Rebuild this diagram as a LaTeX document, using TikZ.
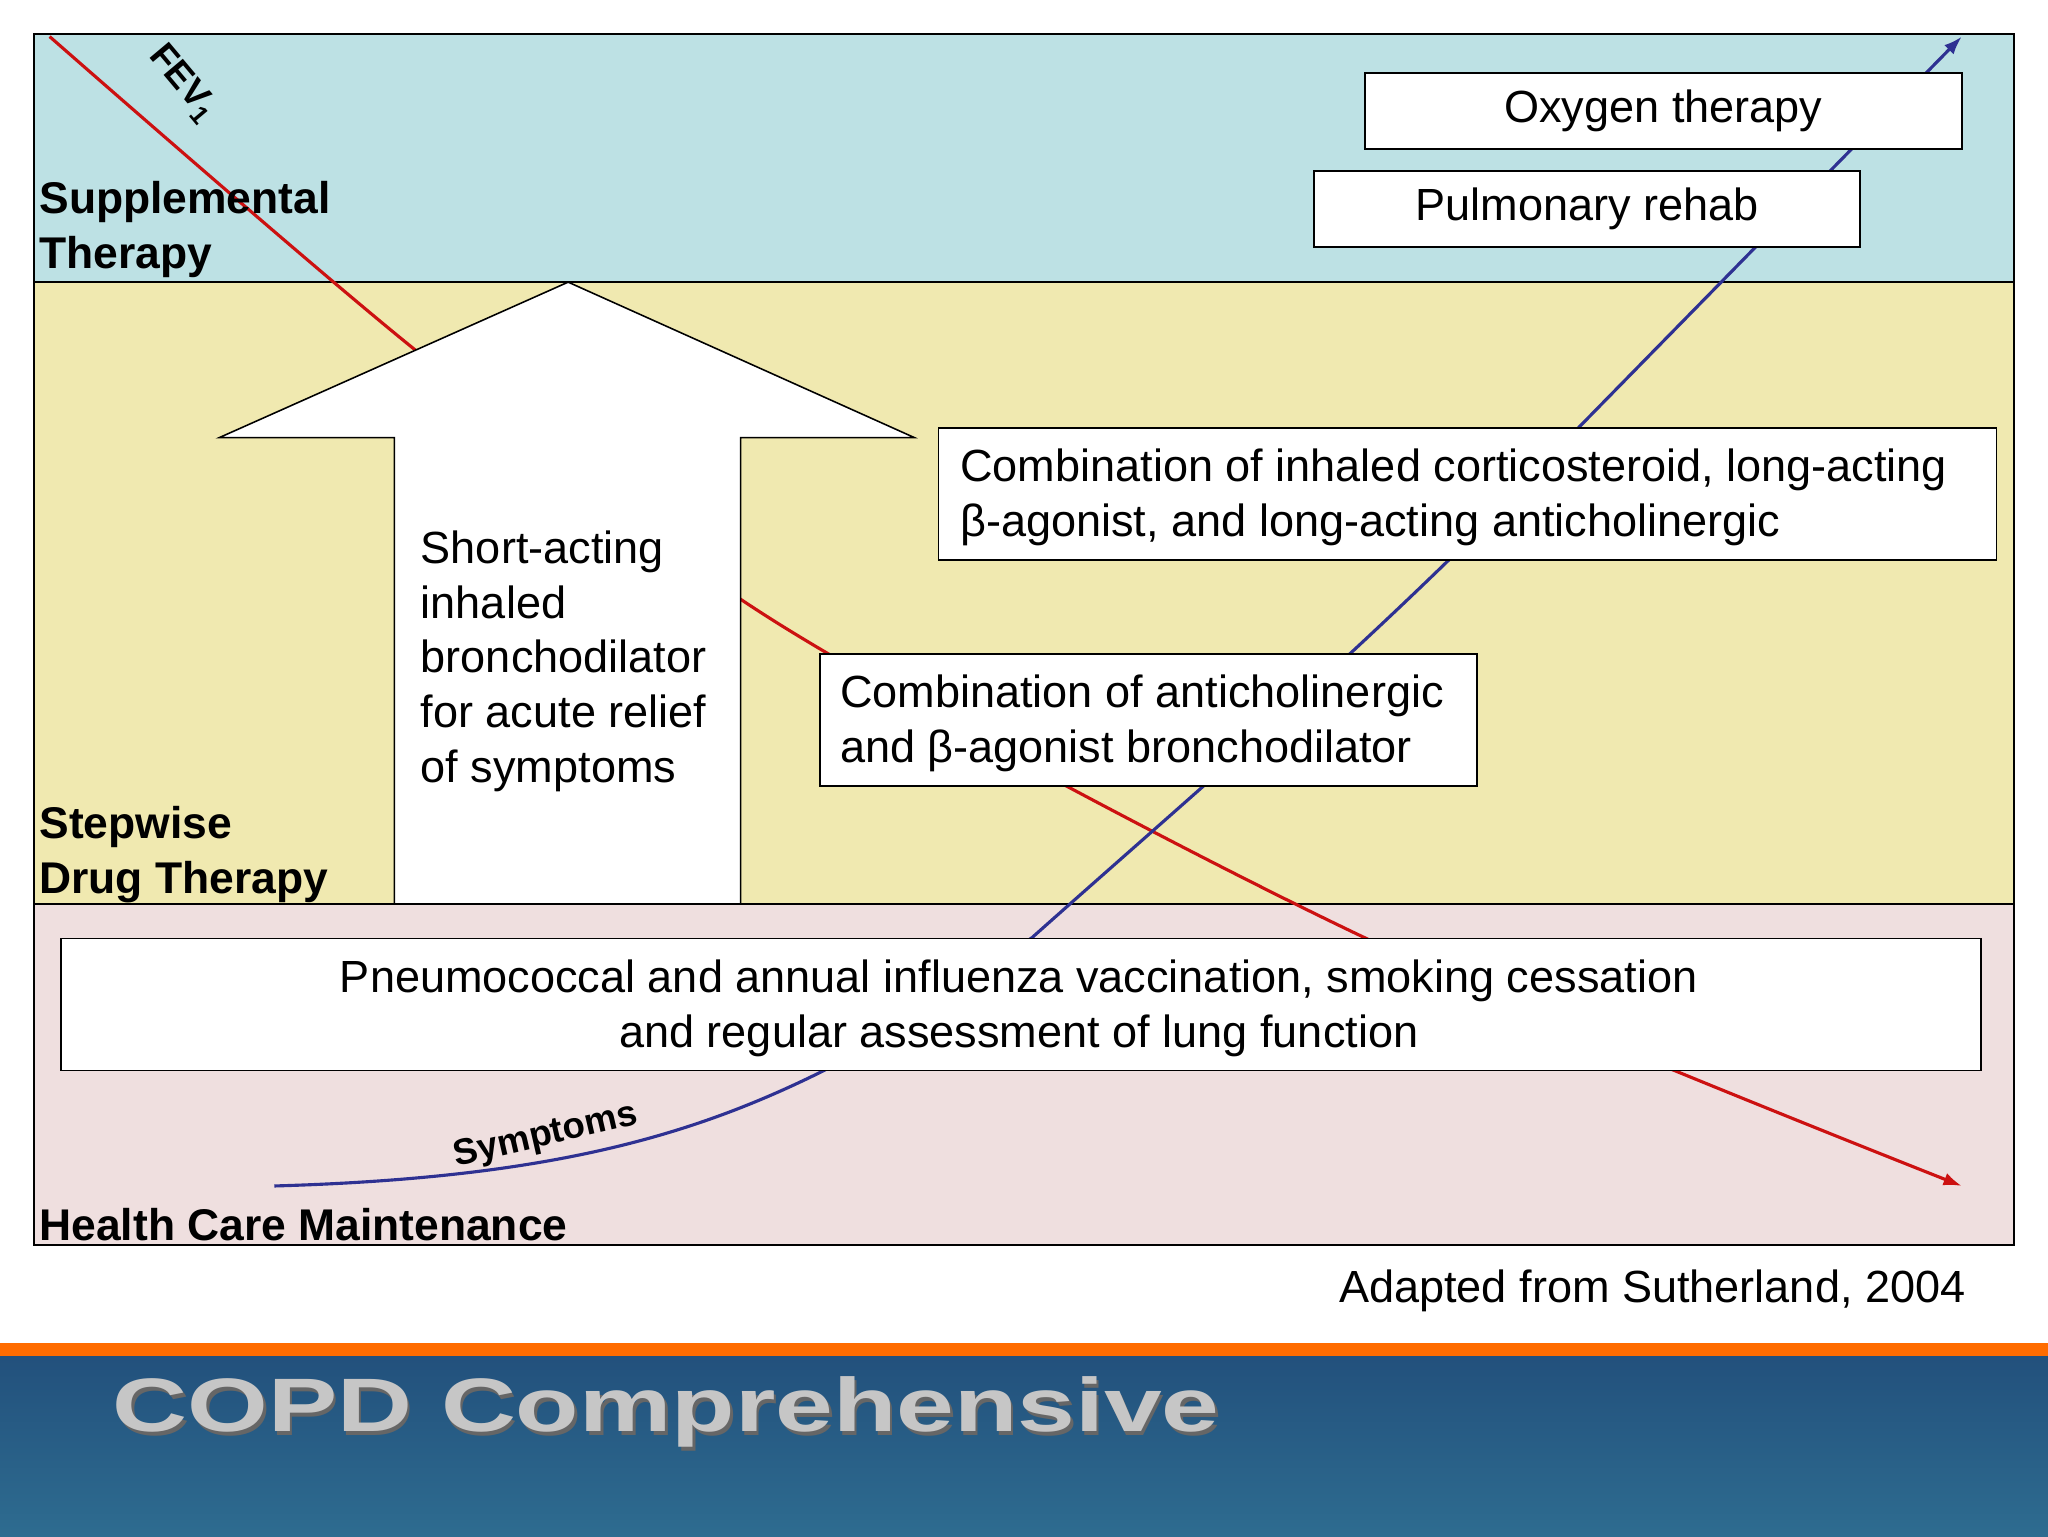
\documentclass[tikz,border=0pt]{standalone}
\usepackage{fontspec}
\setmainfont{Liberation Sans}
\usetikzlibrary{arrows.meta}
\definecolor{topc}{HTML}{BDE1E4}
\definecolor{midc}{HTML}{F0E9B0}
\definecolor{botc}{HTML}{EFDFDF}
\definecolor{redl}{HTML}{CC1111}
\definecolor{bluel}{HTML}{2E3192}
\definecolor{bandA}{HTML}{22507C}
\definecolor{bandB}{HTML}{2E6C90}
\begin{document}
\begin{tikzpicture}[x=1pt,y=-1pt,
  box/.style={draw=black,fill=white,line width=1.2pt,inner sep=0pt},
  txt/.style={font=\fontsize{34.5}{42}\selectfont,align=left},
  lab/.style={font=\fontsize{34}{42}\selectfont\bfseries,align=left,anchor=north west,inner sep=0pt}]
\useasboundingbox (0,0) rectangle (1568,1176);
\fill[white] (0,0) rectangle (1568,1176);
% bands
\fill[topc] (26,26) rectangle (1542,216);
\fill[midc] (26,216) rectangle (1542,692);
\fill[botc] (26,692) rectangle (1542,953);
\draw[line width=1.2pt] (26,216) -- (1542,216) (26,692) -- (1542,692);
\draw[line width=1.2pt] (26,26) rectangle (1542,953);
% footer
\shade[top color=bandA,bottom color=bandB] (0,1036) rectangle (1568,1176);
\fill[orange!85!red] (0,1028) rectangle (1568,1038);
\node[font=\fontsize{58}{60}\selectfont\bfseries,text=black!60,xscale=1.37] at (512,1084) {COPD Comprehensive};
\node[font=\fontsize{58}{60}\selectfont\bfseries,text=gray!45,xscale=1.37] (copd) at (510,1081) {COPD Comprehensive};
% red curve
\draw[redl,line width=2.4pt,-{Latex[length=14pt,width=10pt]}] plot[smooth,tension=0.5] coordinates {(38,28) (318,268) (600,480) (1045,718) (1502,908)};
% blue curve
\draw[bluel,line width=2.4pt,-{Latex[length=14pt,width=10pt]}] (210,908) .. controls (420,902) and (530,870) .. (632,819) -- (790,718) .. controls (900,620) and (1000,535) .. (1110,428) -- (1502,28);
% big arrow
\draw[fill=white,line width=1.2pt] (435,216) -- (700,335) -- (567,335) -- (567,692) -- (302,692) -- (302,335) -- (168,335) -- cycle;
\node[txt,anchor=north west,inner sep=0pt] (sa) at (322,406) {Short-acting\\inhaled\\bronchodilator\\for acute relief\\of symptoms};
% boxes
\node[box,minimum width=457pt,minimum height=58pt] (oxy) at (1273.5,85) {\raisebox{-4pt}{\fontsize{34.5}{42}\selectfont Oxygen therapy}};
\node[box,minimum width=418pt,minimum height=58pt] (pul) at (1215,160) {\raisebox{-4pt}{\fontsize{34.5}{42}\selectfont Pulmonary rehab}};
\node[box,minimum width=810pt,minimum height=101pt,anchor=north west] (ics) at (718,327) {};
\node[txt,anchor=west,inner sep=0pt] at (735,381) {Combination of inhaled corticosteroid, long-acting\\β-agonist, and long-acting anticholinergic};
\node[box,minimum width=503pt,minimum height=101pt,anchor=north west] (ach) at (627,500) {};
\node[txt,anchor=west,inner sep=0pt] at (643,554) {Combination of anticholinergic\\and β-agonist bronchodilator};
\node[box,minimum width=1470pt,minimum height=101pt,anchor=north west] (pn) at (46,718) {};
\node[txt,align=center,inner sep=0pt] at (780,772) {Pneumococcal and annual influenza vaccination, smoking cessation\\and regular assessment of lung function};
% labels
\node[lab] (sup) at (30,139) {Supplemental\\Therapy};
\node[lab] (step) at (30,617) {Stepwise\\Drug Therapy};
\node[lab] (hcm) at (30,925) {Health Care Maintenance};
\node[font=\fontsize{28}{30}\selectfont\bfseries,rotate=-50] (fev) at (140,64) {FEV\textsubscript{1}};
\node[font=\fontsize{28}{30}\selectfont\bfseries,rotate=13] (sym) at (418,870) {Symptoms};
\node[font=\fontsize{34.5}{42}\selectfont,anchor=east,inner sep=0pt] (adp) at (1505,988) {Adapted from Sutherland, 2004};
\end{tikzpicture}
\end{document}
